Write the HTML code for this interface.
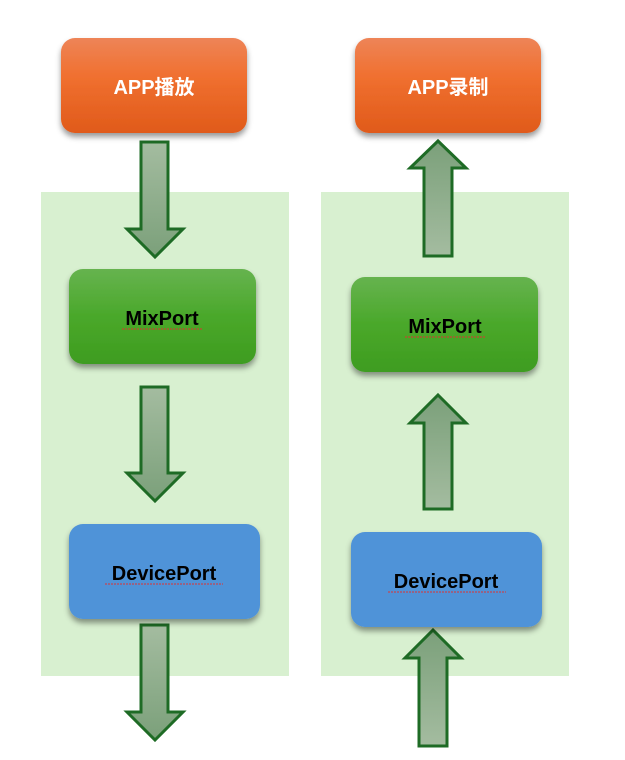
<!DOCTYPE html>
<html><head><meta charset="utf-8"><style>
html,body{margin:0;padding:0;background:#fff;width:625px;height:760px;overflow:hidden}
svg{display:block}
text{font-family:"Liberation Sans","Noto Sans CJK SC",sans-serif;font-weight:bold;font-size:20px;text-anchor:middle}
</style></head><body>
<svg width="625" height="760" viewBox="0 0 625 760">
<defs>
<linearGradient id="og" x1="0" y1="0" x2="0" y2="1"><stop offset="0" stop-color="#ee8457"/><stop offset="0.4" stop-color="#f07030"/><stop offset="1" stop-color="#e05a1a"/></linearGradient>
<linearGradient id="gg" x1="0" y1="0" x2="0" y2="1"><stop offset="0" stop-color="#66b34f"/><stop offset="0.5" stop-color="#4aa82a"/><stop offset="1" stop-color="#3e9c20"/></linearGradient>
<linearGradient id="ad" x1="0" y1="0" x2="0" y2="1"><stop offset="0" stop-color="#a4bca0"/><stop offset="1" stop-color="#7ba07a"/></linearGradient>
<linearGradient id="au" x1="0" y1="0" x2="0" y2="1"><stop offset="0" stop-color="#7ba07a"/><stop offset="1" stop-color="#a4bca0"/></linearGradient>
<filter id="sh" x="-20%" y="-20%" width="140%" height="150%"><feDropShadow dx="0" dy="4" stdDeviation="3" flood-color="#000" flood-opacity="0.4"/></filter>
</defs>
<rect x="41" y="192" width="248" height="484" fill="#d8f0d0"/>
<rect x="321" y="192" width="248" height="484" fill="#d8f0d0"/>

<g stroke="#1e6b25" stroke-width="3" stroke-linejoin="miter">
<polygon fill="url(#ad)" points="141,142 168,142 168,229 183,229 155,257 127,229 141,229"/>
<polygon fill="url(#ad)" points="141,387 168,387 168,473 183,473 155,501 127,473 141,473"/>
<polygon fill="url(#ad)" points="141,625 168,625 168,712 183,712 155,740 127,712 141,712"/>
<polygon fill="url(#au)" points="438,141 466,168 452,168 452,256 424,256 424,168 410,168"/>
<polygon fill="url(#au)" points="438,395 466,423 452,423 452,509 424,509 424,423 410,423"/>
<polygon fill="url(#au)" points="433,630 461,658 447,658 447,746 419,746 419,658 405,658"/>
</g>

<rect x="61" y="38" width="186" height="95" rx="14" fill="url(#og)" filter="url(#sh)"/>
<rect x="355" y="38" width="186" height="95" rx="14" fill="url(#og)" filter="url(#sh)"/>
<rect x="69" y="269" width="187" height="95" rx="14" fill="url(#gg)" filter="url(#sh)"/>
<rect x="351" y="277" width="187" height="95" rx="14" fill="url(#gg)" filter="url(#sh)"/>
<rect x="69" y="524" width="191" height="95" rx="14" fill="#4f93d8" filter="url(#sh)"/>
<rect x="351" y="532" width="191" height="95" rx="14" fill="#4f93d8" filter="url(#sh)"/>

<text x="154" y="94" fill="#fff">APP播放</text>
<text x="448" y="94" fill="#fff">APP录制</text>
<text x="162" y="325" fill="#000">MixPort</text>
<text x="445" y="333" fill="#000">MixPort</text>
<text x="164" y="580" fill="#000">DevicePort</text>
<text x="446" y="588" fill="#000">DevicePort</text>
<g stroke="#d33" stroke-width="1" fill="none" stroke-dasharray="2,1">
<line x1="122" y1="329" x2="203" y2="329"/>
<line x1="405" y1="337" x2="486" y2="337"/>
<line x1="105" y1="584" x2="223" y2="584"/>
<line x1="388" y1="592" x2="506" y2="592"/>
</g>
</svg>
</body></html>
